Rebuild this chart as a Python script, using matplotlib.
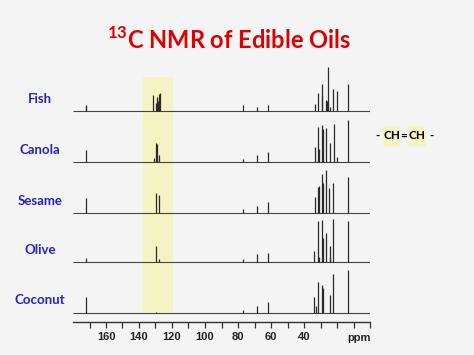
import numpy as np
import matplotlib
matplotlib.use('Agg')
import matplotlib.pyplot as plt
from matplotlib.patches import Rectangle

plt.rcParams['font.family'] = ['Lato', 'DejaVu Sans']
plt.rcParams['mathtext.fontset'] = 'custom'
plt.rcParams['mathtext.rm'] = 'Lato'
plt.rcParams['mathtext.bf'] = 'Lato:bold'

oils = ['Fish', 'Canola', 'Sesame', 'Olive', 'Coconut']
offsets = [211, 160, 109, 60, 9.5]

# peak positions (ppm) and heights
fish_ppm = [172.3, 171.9, 131.5, 129.7, 129.1, 128.5, 128.1, 127.8, 127.3, 77.2, 68.7, 61.6,
            33.5, 31.7, 29.3, 28.9, 26.8, 26.2, 25.3, 24.5, 22.2, 20.2, 13.5]
fish_h = [6, 5, 16, 8, 14, 10, 17, 12, 18, 6, 4, 6,
          7, 18, 27, 15, 11, 10, 44, 4, 22, 20, 27]

canola_ppm = [172.1, 130.7, 129.5, 128.9, 127.7, 77.2, 68.7, 61.6,
              33.3, 31.7, 30.9, 29.3, 28.5, 26.5, 24.4, 22.0, 19.8, 13.5]
canola_h = [12, 4, 19, 18, 7, 3, 7, 10,
            15, 35, 13, 37, 33, 34, 19, 38, 5, 42]

sesame_ppm = [172.1, 129.5, 127.9, 77.2, 68.7, 61.6,
              33.3, 31.7, 30.9, 29.3, 28.7, 26.7, 24.7, 22.2, 13.5]
sesame_h = [15, 20, 18, 4, 7, 11.5,
            16, 26, 27, 39, 30, 43, 25, 30, 36]

olive_ppm = [172.1, 129.5, 127.7, 77.2, 68.7, 61.6,
             33.8, 31.5, 30.9, 29.3, 28.7, 26.7, 24.5, 24.2, 22.2, 13.5]
olive_h = [4, 16, 3, 3.3, 8, 9,
           11, 41, 5, 42, 24, 29, 16, 4, 43, 41]

coconut_ppm = [172.1, 129.5, 77.2, 68.7, 61.6,
               33.8, 32.7, 31.5, 29.3, 28.7, 24.5, 22.2, 13.5]
coconut_h = [16, 1, 2.7, 7, 11,
             16, 7, 31, 28, 25, 18, 39, 43]

spectra = [(fish_ppm, fish_h), (canola_ppm, canola_h), (sesame_ppm, sesame_h),
           (olive_ppm, olive_h), (coconut_ppm, coconut_h)]

tick_vals = np.arange(170, -1, -10)
tick_labels = ['', '160', '', '140', '', '120', '', '100', '', '80', '', '60', '', '40', '', '', '', '']

bg = '#f4f4f4'
hl = '#f5f3c4'
fig = plt.figure(figsize=(4.74, 3.55), dpi=100, facecolor=bg)
ax = fig.add_axes([73 / 474, 33 / 355, 297 / 474, 256 / 355])
ax.set_facecolor('none')

# olefinic region highlight
ax.fill_betweenx([10, 245], 137.6, 119.4, color=hl, lw=0, zorder=0)

for name, base, (ppm, h) in zip(oils, offsets, spectra):
    ax.hlines(base, 180, 0, color='#444444', lw=0.8, zorder=2)
    ax.vlines(ppm, base, np.array(h) + base, color='#2a2a2a', lw=0.9, zorder=3)
    ax.text(200, base + 12, name, color='#2424c0', fontsize=9.5, fontweight='bold',
            ha='center', va='center', clip_on=False)

ax.set_xlim(180, 0)
ax.set_ylim(0, 256)
for s in ['top', 'left', 'right']:
    ax.spines[s].set_visible(False)
ax.spines['bottom'].set_color('#333333')
ax.spines['bottom'].set_linewidth(1.0)
ax.set_yticks([])
ax.set_xticks(tick_vals)
ax.set_xticklabels(tick_labels)
ax.tick_params(axis='x', length=4.5, width=0.9, color='#333333', pad=3)
for lab in ax.get_xticklabels():
    lab.set_family(['Liberation Sans', 'DejaVu Sans'])
    lab.set_fontweight('bold')
    lab.set_fontsize(8)
    lab.set_color('#222222')

fig.text(359 / 474, 1 - 338 / 355, 'ppm', fontsize=8, fontweight='bold', color='#222222',
         family=['Liberation Sans', 'DejaVu Sans'], ha='center', va='center')

fig.text(229 / 474, 1 - 40 / 355, r'$^{\mathbf{13}}$C NMR of Edible Oils', fontsize=17,
         fontweight='bold', color='#dd0000', ha='center', va='center')

# -CH=CH- annotation
for x0, x1 in [(383, 400), (408, 426)]:
    fig.add_artist(Rectangle((x0 / 474, 1 - 146 / 355), (x1 - x0) / 474, 19 / 355,
                             transform=fig.transFigure, facecolor=hl, edgecolor='none'))
ann_y = 1 - 136 / 355
for xp, s in [(378, '-'), (391.5, 'CH'), (404, '='), (417, 'CH'), (431, '-')]:
    fig.text(xp / 474, ann_y, s, fontsize=8.5, fontweight='bold', ha='center', va='center')

plt.savefig('out.png', dpi=100, facecolor=bg)
